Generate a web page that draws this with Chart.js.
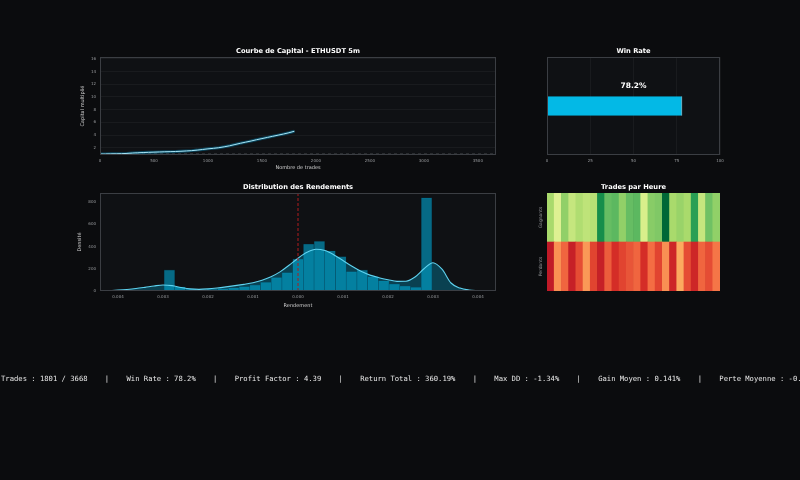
<!DOCTYPE html>
<html lang="fr">
<head>
<meta charset="utf-8">
<title>Backtest ETHUSDT 5m</title>
<script src="https://cdn.jsdelivr.net/npm/chart.js@4.4.1/dist/chart.umd.min.js"></script>
<style>
  html, body { margin: 0; padding: 0; background: #0b0c0e; }
  body { width: 800px; height: 480px; position: relative; overflow: hidden; }
  .box { position: absolute; }
  #stats {
    position: absolute; left: 1px; top: 374px; width: 799px;
    overflow: hidden; white-space: pre;
    font-family: "DejaVu Sans Mono", monospace; font-size: 7.2px; line-height: 10px;
    color: #e8e8e8;
    -webkit-font-smoothing: antialiased;
    will-change: transform;
  }
</style>
</head>
<body>
<div class="box" style="left:60px;top:40px;width:450px;height:135px"><canvas id="capitalChart" width="450" height="135"></canvas></div>
<div class="box" style="left:520px;top:40px;width:220px;height:135px"><canvas id="winRateChart" width="220" height="135"></canvas></div>
<div class="box" style="left:60px;top:176px;width:450px;height:135px"><canvas id="distChart" width="450" height="135"></canvas></div>
<div class="box" style="left:520px;top:176px;width:220px;height:135px"><canvas id="hourChart" width="220" height="135"></canvas></div>
<div id="stats"></div>

<script>
// ---- data ----

// equity curve (capital multiple), sampled every 50 trades
const capitalTrades = [0, 50, 100, 150, 200, 250, 300, 350, 400, 450, 500, 550, 600, 650, 700, 750, 800, 850, 900,
  950, 1000, 1050, 1100, 1150, 1200, 1250, 1300, 1350, 1400, 1450, 1500, 1550, 1600, 1650, 1700, 1750, 1801];
const capitalValues = [1.00, 1.01, 1.03, 1.04, 1.06, 1.10, 1.16, 1.20, 1.24, 1.27, 1.30, 1.33, 1.36, 1.38, 1.40, 1.44, 1.49, 1.54, 1.62,
  1.72, 1.82, 1.90, 2.00, 2.14, 2.30, 2.50, 2.70, 2.88, 3.06, 3.26, 3.44, 3.62, 3.80, 3.98, 4.16, 4.36, 4.60];
const capitalXTicks = [0, 500, 1000, 1500, 2000, 2500, 3000, 3500];
const capitalYTicks = [2, 4, 6, 8, 10, 12, 14, 16];
const totalTrades = 3668;
const startCapital = 1;

// win rate
const winRate = 78.2;
const winRateTicks = [0, 25, 50, 75, 100];

// return distribution: histogram bins (centers) and density
const binCenters = [-0.002857, -0.002619, -0.002381, -0.002143, -0.001905, -0.001667, -0.001429, -0.001190, -0.000952,
  -0.000714, -0.000476, -0.000238, 0, 0.000238, 0.000476, 0.000714, 0.000952, 0.001190, 0.001429, 0.001667, 0.001905,
  0.002143, 0.002381, 0.002619, 0.002857];
const binDensity = [190, 38, 18, 12, 15, 22, 30, 40, 55, 80, 122, 166, 289, 423, 447, 362, 311, 175, 190, 130, 93, 63, 45, 35, 840];
// kde curve
const kdeX = [-0.0042, -0.0040, -0.0038, -0.0036, -0.0034, -0.0032, -0.0030, -0.0028, -0.0026, -0.0024, -0.0022,
  -0.0020, -0.0018, -0.0016, -0.0014, -0.0012, -0.0010, -0.0008, -0.0006, -0.0004, -0.0002, 0, 0.0002, 0.0004,
  0.0006, 0.0008, 0.0010, 0.0012, 0.0014, 0.0016, 0.0018, 0.0020, 0.0022, 0.0024, 0.0026, 0.0028, 0.0030, 0.0032,
  0.0034, 0.0036, 0.0038, 0.0040, 0.0042, 0.0044];
const kdeY = [3, 8, 14, 22, 33, 45, 54, 48, 32, 19, 15, 19, 27, 37, 48, 60, 74, 96, 128, 172, 232, 295, 348, 376,
  364, 325, 274, 222, 177, 143, 120, 102, 87, 88, 126, 200, 255, 196, 72, 26, 9, 4, 1, 0];
const distXTicks = [-0.004, -0.003, -0.002, -0.001, 0, 0.001, 0.002, 0.003, 0.004];
const distYTicks = [0, 200, 400, 600, 800];
const distYMax = 882;

// trades per hour
const hours = ['0', '1', '2', '3', '4', '5', '6', '7', '8', '9', '10', '11', '12', '13', '14', '15', '16', '17', '18', '19', '20', '21', '22', '23'];
const winnersPerHour = [57, 49, 60, 53, 56, 54, 55, 74, 65, 66, 60, 65, 66, 50, 61, 62, 80, 57, 59, 57, 71, 53, 64, 60];
const losersPerHour = [9, 24, 19, 10, 16, 25, 15, 10, 18, 12, 15, 17, 19, 12, 20, 15, 24, 11, 27, 16, 11, 19, 16, 21];
const rowLabels = ['Gagnants', 'Perdants'];

// summary line
const statNames = ['Trades', 'Win Rate', 'Profit Factor', 'Return Total', 'Max DD', 'Gain Moyen', 'Perte Moyenne'];
const statValues = ['1801 / 3668', '78.2%', '4.39', '360.19%', '-1.34%', '0.141%', '-0.115%'];

// ---- styles ----
const FONT = "'DejaVu Sans', sans-serif";
const TICK = '#9a9c9f';
const LABEL = '#d2d2d2';
const GRID = 'rgba(255,255,255,0.045)';
const PLOT_BG = '#0f1114';
const FRAME = '#3b3e43';

Chart.defaults.font.family = FONT;
Chart.defaults.animation = false;
Chart.defaults.plugins.legend.display = false;
Chart.defaults.plugins.tooltip.enabled = false;

// fill the plot area and draw a frame round it, like matplotlib axes
const plotFrame = {
  id: 'plotFrame',
  beforeDraw(chart, args, opts) {
    const { ctx, chartArea: a } = chart;
    ctx.save();
    ctx.fillStyle = PLOT_BG;
    ctx.fillRect(a.left, a.top, a.width, a.height);
    ctx.restore();
  },
  afterDraw(chart, args, opts) {
    if (opts.noFrame) return;
    const { ctx, chartArea: a } = chart;
    ctx.save();
    ctx.strokeStyle = FRAME;
    ctx.lineWidth = 1;
    ctx.strokeRect(Math.round(a.left) + 0.5, Math.round(a.top) + 0.5, Math.round(a.width) - 1, Math.round(a.height) - 1);
    ctx.restore();
  }
};

function chartTitle(text) {
  return {
    display: true, text: text, color: '#ffffff', fullSize: false,
    font: { size: 6.7, weight: 'bold', lineHeight: 1.2 },
    padding: { top: 7, bottom: 2 }
  };
}

function tickOpts(extra) {
  return Object.assign({ color: TICK, font: { size: 4 }, padding: 4, maxRotation: 0, autoSkip: false }, extra || {});
}

function fixedTicks(list) {
  return function (scale) { scale.ticks = list.map(v => ({ value: v })); };
}

// ---- capital curve ----
const capitalPoints = capitalTrades.map((t, i) => ({ x: t, y: capitalValues[i] }));
new Chart(document.getElementById('capitalChart'), {
  type: 'line',
  data: {
    datasets: [
      { data: capitalPoints, borderColor: '#a8e6f7', borderWidth: 1, pointRadius: 0, tension: 0 },
      { data: capitalPoints, borderColor: 'rgba(0,170,230,0.35)', borderWidth: 3, pointRadius: 0, tension: 0 },
      { data: [{ x: 0, y: startCapital }, { x: totalTrades, y: startCapital }],
        borderColor: '#5c5f64', borderWidth: 0.8, borderDash: [3, 3], pointRadius: 0 }
    ]
  },
  options: {
    responsive: false,
    layout: { padding: { left: 0, right: 14, top: 0, bottom: 0 } },
    plugins: { title: chartTitle('Courbe de Capital - ETHUSDT 5m') },
    scales: {
      x: {
        type: 'linear', min: 0, max: totalTrades,
        afterBuildTicks: fixedTicks(capitalXTicks),
        afterFit: s => { s.height = 20; },
        ticks: tickOpts({ callback: v => String(v) }),
        grid: { display: false, drawTicks: false },
        border: { display: false },
        title: { display: true, text: 'Nombre de trades', color: LABEL, font: { size: 5 }, padding: { top: 0, bottom: 4 } }
      },
      y: {
        type: 'linear', min: 0.85, max: 16.3,
        afterBuildTicks: fixedTicks(capitalYTicks),
        afterFit: s => { s.width = 40; },
        ticks: tickOpts({ callback: v => String(v) }),
        grid: { color: GRID, drawTicks: false },
        border: { display: false },
        title: { display: true, text: 'Capital multiplié', color: LABEL, font: { size: 5 }, padding: { top: 20, bottom: 0 } }
      }
    }
  },
  plugins: [plotFrame]
});

// ---- win rate ----
const valueLabel = {
  id: 'valueLabel',
  afterDatasetsDraw(chart) {
    const { ctx, chartArea: a } = chart;
    const bar = chart.getDatasetMeta(0).data[0];
    ctx.save();
    ctx.fillStyle = '#ffffff';
    ctx.font = 'bold 7.5px ' + FONT;
    ctx.textAlign = 'center';
    ctx.textBaseline = 'middle';
    ctx.fillText(winRate.toFixed(1) + '%', (a.left + a.right) / 2, bar.y - bar.height / 2 - 10);
    ctx.restore();
  }
};
new Chart(document.getElementById('winRateChart'), {
  type: 'bar',
  data: {
    labels: ['Win Rate'],
    datasets: [{ data: [winRate], backgroundColor: '#03b9e6', borderColor: '#a6e9fb', borderWidth: { right: 1 },
      borderSkipped: false, barPercentage: 0.2, categoryPercentage: 1 }]
  },
  options: {
    responsive: false,
    indexAxis: 'y',
    layout: { padding: { left: 27, right: 20, top: 0, bottom: 0 } },
    plugins: { title: chartTitle('Win Rate') },
    scales: {
      x: {
        type: 'linear', min: 0, max: 100,
        afterBuildTicks: fixedTicks(winRateTicks),
        afterFit: s => { s.height = 20; },
        ticks: tickOpts({ callback: v => String(v) }),
        grid: { color: GRID, drawTicks: false },
        border: { display: false }
      },
      y: { display: false }
    }
  },
  plugins: [plotFrame, valueLabel]
});

// ---- return distribution ----
new Chart(document.getElementById('distChart'), {
  type: 'bar',
  data: {
    datasets: [
      { type: 'line', order: 0, data: [{ x: 0, y: 0 }, { x: 0, y: distYMax }],
        borderColor: '#b01c1c', borderWidth: 1, borderDash: [3, 2], pointRadius: 0 },
      { type: 'line', order: 1, data: kdeX.map((x, i) => ({ x: x, y: kdeY[i] })),
        borderColor: '#5fd3f0', borderWidth: 1.1, pointRadius: 0, cubicInterpolationMode: 'monotone',
        fill: 'origin', backgroundColor: 'rgba(0,180,225,0.30)' },
      { type: 'bar', order: 2, data: binCenters.map((x, i) => ({ x: x, y: binDensity[i] })),
        backgroundColor: 'rgba(0,170,215,0.58)', borderColor: 'rgba(8,40,52,0.7)', borderWidth: 0.6,
        barPercentage: 1, categoryPercentage: 1 }
    ]
  },
  options: {
    responsive: false,
    layout: { padding: { left: 0, right: 14, top: 0, bottom: 0 } },
    plugins: { title: chartTitle('Distribution des Rendements') },
    scales: {
      x: {
        type: 'linear', min: -0.0044, max: 0.0044, offset: false,
        afterBuildTicks: fixedTicks(distXTicks),
        afterFit: s => { s.height = 20; },
        ticks: tickOpts({ callback: v => Math.abs(v).toFixed(3) }),
        grid: { display: false, drawTicks: false, offset: false },
        border: { display: false },
        title: { display: true, text: 'Rendement', color: LABEL, font: { size: 5 }, padding: { top: 0, bottom: 2.5 } }
      },
      y: {
        type: 'linear', min: 0, max: distYMax,
        afterBuildTicks: fixedTicks(distYTicks),
        afterFit: s => { s.width = 40; },
        ticks: tickOpts({ callback: v => String(v) }),
        grid: { display: false, drawTicks: false },
        border: { display: false },
        title: { display: true, text: 'Densité', color: LABEL, font: { size: 5 }, padding: { top: 17, bottom: 0 } }
      }
    }
  },
  plugins: [plotFrame]
});

// ---- trades per hour heatmap ----
const rdYlGn = ['#a50026', '#d73027', '#f46d43', '#fdae61', '#fee08b', '#ffffbf', '#d9ef8b', '#a6d96a', '#66bd63', '#1a9850', '#006837'];
const colorMin = 5, colorMax = 80;
function hexRgb(h) { return [1, 3, 5].map(i => parseInt(h.substr(i, 2), 16)); }
function heatColor(v) {
  const t = Math.min(1, Math.max(0, (v - colorMin) / (colorMax - colorMin))) * (rdYlGn.length - 1);
  const i = Math.min(rdYlGn.length - 2, Math.floor(t));
  const f = t - i;
  const a = hexRgb(rdYlGn[i]), b = hexRgb(rdYlGn[i + 1]);
  const c = a.map((x, k) => Math.round(x + (b[k] - x) * f));
  return 'rgb(' + c.join(',') + ')';
}

const rowLabelPlugin = {
  id: 'rowLabels',
  afterDraw(chart) {
    const { ctx, chartArea } = chart;
    ctx.save();
    ctx.fillStyle = TICK;
    ctx.font = '4.5px ' + FONT;
    ctx.textAlign = 'center';
    ctx.textBaseline = 'middle';
    chart.data.datasets.forEach((ds, i) => {
      const el = chart.getDatasetMeta(i).data[0];
      const cy = (el.y + el.base) / 2;
      ctx.save();
      ctx.translate(chartArea.left - 6, cy);
      ctx.rotate(-Math.PI / 2);
      ctx.fillText(ds.label, 0, 0);
      ctx.restore();
    });
    ctx.restore();
  }
};

new Chart(document.getElementById('hourChart'), {
  type: 'bar',
  data: {
    labels: hours,
    datasets: [
      { label: rowLabels[1], data: hours.map(() => 1), backgroundColor: losersPerHour.map(heatColor),
        borderWidth: 0, barPercentage: 1, categoryPercentage: 1 },
      { label: rowLabels[0], data: hours.map(() => 1), backgroundColor: winnersPerHour.map(heatColor),
        borderWidth: 0, barPercentage: 1, categoryPercentage: 1 }
    ]
  },
  options: {
    responsive: false,
    layout: { padding: { left: 27, right: 20, top: 0, bottom: 20 } },
    plugins: { title: chartTitle('Trades par Heure'), plotFrame: { noFrame: true } },
    scales: {
      x: { display: false, stacked: true },
      y: { display: false, stacked: true, min: 0, max: 2 }
    }
  },
  plugins: [plotFrame, rowLabelPlugin]
});

// ---- summary line ----
document.getElementById('stats').textContent =
  statNames.map((n, i) => n + ' : ' + statValues[i]).join('    |    ');
</script>
</body>
</html>
